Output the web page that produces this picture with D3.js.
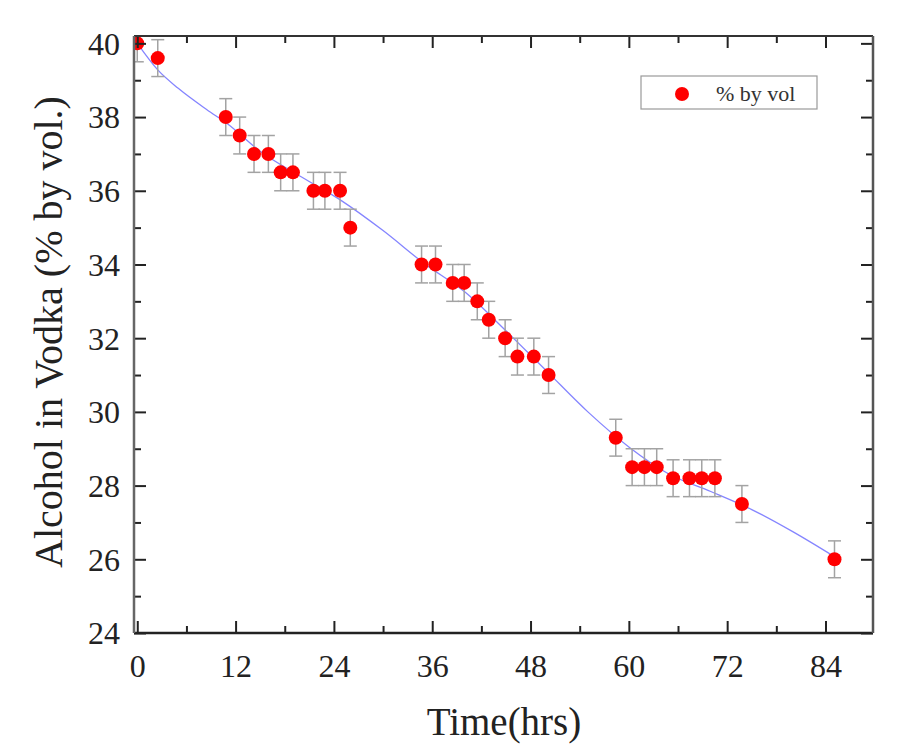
<!DOCTYPE html>
<html>
<head>
<meta charset="utf-8">
<script src="https://cdn.jsdelivr.net/npm/d3@7"></script>
<style>
  body { margin: 0; background: #fff; }
  svg { display: block; font-family: "Liberation Serif", "Times New Roman", serif; }
</style>
</head>
<body>
<div id="chart"></div>
<script>
// measured points (hours, % alcohol by volume), error +/- 0.5
const hours = [0, 2.5, 10.8, 12.5, 14.25, 16.0, 17.5, 19.0, 21.5, 22.9, 24.75, 26.0,
  34.7, 36.4, 38.5, 39.9, 41.5, 42.9, 44.9, 46.4, 48.4, 50.2,
  58.4, 60.4, 61.9, 63.4, 65.4, 67.4, 68.9, 70.5, 73.8, 85.1];
const alcohol = [40, 39.6, 38, 37.5, 37, 37, 36.5, 36.5, 36, 36, 36, 35,
  34, 34, 33.5, 33.5, 33, 32.5, 32, 31.5, 31.5, 31,
  29.3, 28.5, 28.5, 28.5, 28.2, 28.2, 28.2, 28.2, 27.5, 26];
const errors = alcohol.map(() => 0.5);

// fitted curve
const fitHours = [0, 2.5, 5, 8.5, 11, 15, 20, 25, 30, 35, 40, 45, 50, 55, 60, 65, 70, 75, 80, 85.1];
const fitValues = [40, 39.28, 38.78, 38.2, 37.82, 37.07, 36.38, 35.72, 34.92, 34.03, 33.25, 32.2, 31.1,
  30.0, 29.05, 28.3, 27.84, 27.35, 26.75, 26.07];

const xTicks = [0, 12, 24, 36, 48, 60, 72, 84];
const yTicks = [24, 26, 28, 30, 32, 34, 36, 38, 40];

const width = 900, height = 756;
const plotLeft = 134, plotRight = 873, plotTop = 36, plotBottom = 633;

const svg = d3.select("#chart").append("svg")
  .attr("width", width)
  .attr("height", height);

const x = d3.scaleLinear().domain([-0.4, 89.8]).range([plotLeft, plotRight]);
const y = d3.scaleLinear().domain([24, 40.2]).range([plotBottom, plotTop]);

const serif = "Liberation Serif, Times New Roman, serif";

svg.append("clipPath").attr("id", "plot-clip")
  .append("rect")
  .attr("x", plotLeft).attr("y", plotTop)
  .attr("width", plotRight - plotLeft).attr("height", plotBottom - plotTop);

const plot = svg.append("g").attr("clip-path", "url(#plot-clip)");

// fit line
plot.append("path")
  .datum(fitHours.map((h, i) => [h, fitValues[i]]))
  .attr("fill", "none")
  .attr("stroke", "#8585ff")
  .attr("stroke-width", 1.3)
  .attr("d", d3.line().x(d => x(d[0])).y(d => y(d[1])).curve(d3.curveMonotoneX));

const data = hours.map((h, i) => ({ h, v: alcohol[i], e: errors[i] }));

// error bars
const eb = plot.selectAll(".err").data(data).join("g")
  .attr("class", "err")
  .attr("stroke", "#a3a3a3")
  .attr("stroke-width", 1.5);
eb.append("line")
  .attr("x1", d => x(d.h)).attr("x2", d => x(d.h))
  .attr("y1", d => y(d.v - d.e)).attr("y2", d => y(d.v + d.e));
eb.append("line")
  .attr("x1", d => x(d.h) - 6.5).attr("x2", d => x(d.h) + 6.5)
  .attr("y1", d => y(d.v + d.e)).attr("y2", d => y(d.v + d.e));
eb.append("line")
  .attr("x1", d => x(d.h) - 6.5).attr("x2", d => x(d.h) + 6.5)
  .attr("y1", d => y(d.v - d.e)).attr("y2", d => y(d.v - d.e));

// points
plot.selectAll(".pt").data(data).join("circle")
  .attr("class", "pt")
  .attr("cx", d => x(d.h))
  .attr("cy", d => y(d.v))
  .attr("r", 7)
  .attr("fill", "#ff0000");

// axes: ticks inward on all four sides
const xMinor = d3.range(6, 90, 12);
const yMinor = d3.range(25, 40, 2);

const bottomAxis = svg.append("g").attr("transform", `translate(0,${plotBottom})`)
  .call(d3.axisBottom(x).tickValues(xTicks).tickSize(-12).tickPadding(21).tickFormat(d3.format("d")));
svg.append("g").attr("transform", `translate(0,${plotBottom})`)
  .call(d3.axisBottom(x).tickValues(xMinor).tickSize(-7).tickFormat(""));
svg.append("g").attr("transform", `translate(0,${plotTop})`)
  .call(d3.axisTop(x).tickValues(xTicks).tickSize(-12).tickFormat(""));
svg.append("g").attr("transform", `translate(0,${plotTop})`)
  .call(d3.axisTop(x).tickValues(xMinor).tickSize(-7).tickFormat(""));

const leftAxis = svg.append("g").attr("transform", `translate(${plotLeft},0)`)
  .call(d3.axisLeft(y).tickValues(yTicks).tickSize(-12).tickPadding(14).tickFormat(d3.format("d")));
svg.append("g").attr("transform", `translate(${plotLeft},0)`)
  .call(d3.axisLeft(y).tickValues(yMinor).tickSize(-7).tickFormat(""));
svg.append("g").attr("transform", `translate(${plotRight},0)`)
  .call(d3.axisRight(y).tickValues(yTicks).tickSize(-12).tickFormat(""));
svg.append("g").attr("transform", `translate(${plotRight},0)`)
  .call(d3.axisRight(y).tickValues(yMinor).tickSize(-7).tickFormat(""));

svg.selectAll(".domain").remove();
svg.selectAll("g").attr("font-family", serif);
svg.selectAll(".tick line").attr("stroke", "#222").attr("stroke-width", 2);
svg.selectAll(".tick text")
  .attr("font-family", serif)
  .attr("font-size", 32)
  .attr("fill", "#222");
bottomAxis.selectAll(".tick text").attr("dy", "0.71em");
leftAxis.selectAll(".tick text").attr("dy", "0.34em");

// frame
svg.append("line").attr("x1", plotLeft).attr("x2", plotRight).attr("y1", plotBottom).attr("y2", plotBottom)
  .attr("stroke", "#222").attr("stroke-width", 2.5);
svg.append("line").attr("x1", plotLeft).attr("x2", plotRight).attr("y1", plotTop).attr("y2", plotTop)
  .attr("stroke", "#333").attr("stroke-width", 2);
svg.append("line").attr("x1", plotLeft).attr("x2", plotLeft).attr("y1", plotTop).attr("y2", plotBottom)
  .attr("stroke", "#666").attr("stroke-width", 2.5);
svg.append("line").attr("x1", plotRight).attr("x2", plotRight).attr("y1", plotTop).attr("y2", plotBottom)
  .attr("stroke", "#555").attr("stroke-width", 2.5);

// axis titles
svg.append("text")
  .attr("x", 504).attr("y", 735)
  .attr("text-anchor", "middle")
  .attr("font-family", serif).attr("font-size", 39)
  .attr("fill", "#222")
  .text("Time(hrs)");

svg.append("text")
  .attr("transform", "translate(62,332) rotate(-90)")
  .attr("text-anchor", "middle")
  .attr("font-family", serif).attr("font-size", 40)
  .attr("fill", "#222")
  .text("Alcohol in Vodka (% by vol.)");

// legend
const legend = svg.append("g");
legend.append("rect")
  .attr("x", 641).attr("y", 76).attr("width", 176).attr("height", 33)
  .attr("fill", "#fff").attr("stroke", "#9a9a9a").attr("stroke-width", 1.2);
legend.append("circle")
  .attr("cx", 682).attr("cy", 94).attr("r", 7).attr("fill", "#ff0000");
legend.append("text")
  .attr("x", 716).attr("y", 101)
  .attr("font-family", serif).attr("font-size", 22)
  .attr("fill", "#333")
  .text("% by vol");
</script>
</body>
</html>
